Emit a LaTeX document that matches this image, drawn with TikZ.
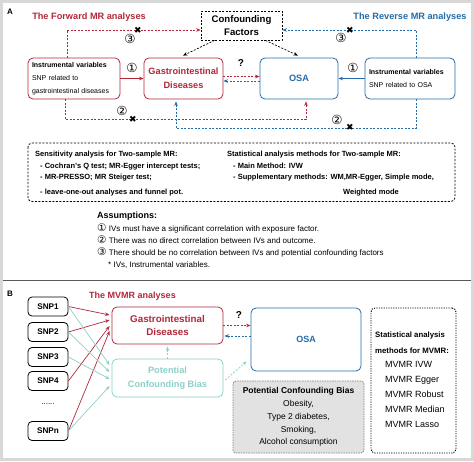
\documentclass[tikz,border=0pt]{standalone}
\usepackage{fontspec}
\setmainfont{Liberation Sans}
\newfontfamily\symfont{DejaVu Sans}
\usetikzlibrary{positioning,arrows.meta}
\definecolor{fwdred}{RGB}{178,40,58}
\definecolor{revblue}{RGB}{36,108,168}
\definecolor{confteal}{RGB}{140,208,200}
\definecolor{framegray}{RGB}{216,216,216}
\definecolor{boxgray}{RGB}{226,226,226}

\begin{document}
\begin{tikzpicture}[x=1pt,y=-1pt,>={Stealth[length=4.5pt,width=3.5pt]}]
\tikzstyle{every node}=[inner sep=0pt]
\tikzstyle{fbox}=[draw=fwdred,rounded corners=5pt,line width=0.8pt]
\tikzstyle{rbox}=[draw=revblue,rounded corners=5pt,line width=0.8pt]
\tikzstyle{snpbox}=[draw,rounded corners=4pt,line width=0.8pt,minimum width=40pt,minimum height=19pt,font=\bfseries\fontsize{8.2}{10}\selectfont]
\tikzstyle{fdash}=[fwdred,line width=0.7pt,dash pattern=on 2pt off 1.5pt,->]
\tikzstyle{rdash}=[revblue,line width=0.7pt,dash pattern=on 2pt off 1.5pt,->]
\tikzstyle{kdash}=[black,line width=0.7pt,dash pattern=on 2pt off 1.5pt,->]
\tikzstyle{tdash}=[confteal,line width=0.7pt,dash pattern=on 2pt off 1.5pt,->]
\tikzstyle{num}=[font=\symfont\fontsize{12.5}{12.5}\selectfont]
\tikzstyle{cross}=[font=\symfont\fontsize{9}{9}\selectfont]
\tikzstyle{small}=[anchor=mid west,font=\bfseries\fontsize{7.5}{9}\selectfont]
\tikzstyle{assum}=[anchor=mid west,font=\fontsize{8}{9}\selectfont]

\useasboundingbox (0,0) rectangle (474,461);
\fill[white] (0,0) rectangle (474,461);
\draw[framegray,line width=3pt] (1.5,1.5) rectangle (472.5,459.5);
\draw[gray!70!black,line width=1.5pt] (3,280.5) -- (471,280.5);

\node[font=\bfseries\fontsize{8}{8}\selectfont] (lA) at (10,12) {A};
\node[font=\bfseries\fontsize{9.2}{10}\selectfont,text=fwdred] (tfwd) at (89,17) {The Forward MR analyses};
\node[font=\bfseries\fontsize{9.2}{10}\selectfont,text=revblue] (trev) at (410,17) {The Reverse MR analyses};

\node[draw,dash pattern=on 2pt off 1.5pt,line width=0.8pt,minimum width=81pt,minimum height=29pt,align=center,font=\bfseries\fontsize{9.6}{13.5}\selectfont] (conf) at (241.5,25.5) {Confounding\\Factors};

\node[fbox,minimum width=92pt,minimum height=41pt,text width=84pt,align=left,font=\fontsize{7}{13}\selectfont] (fiv) at (74,78.5) {\textbf{Instrumental variables}\\SNP related to\\gastrointestinal diseases};
\node[fbox,minimum width=79pt,minimum height=41pt,align=center,text=fwdred,font=\bfseries\fontsize{9.2}{14}\selectfont] (gi) at (183.5,78.5) {Gastrointestinal\\Diseases};
\node[rbox,minimum width=78pt,minimum height=41pt,text=revblue,font=\bfseries\fontsize{9.2}{10}\selectfont] (osa) at (299,78.5) {OSA};
\node[rbox,minimum width=90pt,minimum height=41pt,text width=82pt,align=left,font=\fontsize{7}{13}\selectfont] (riv) at (410,78.5) {\textbf{Instrumental variables}\\SNP related to OSA};

\draw[fwdred,line width=0.8pt,->] (fiv.east) -- (gi.west);
\draw[revblue,line width=0.8pt,->] (riv.west) -- (osa.east);
\node[num] (n1f) at (132,68) {①};
\node[num] (n1r) at (353,68) {①};

\draw[fdash] ([xshift=-7pt]fiv.north) |- ([yshift=-4.5pt]conf.west);
\draw[rdash] ([xshift=6pt]riv.north) |- ([yshift=-4.5pt]conf.east);
\node[cross] (x3f) at (138,30) {✖};
\node[num] (n3f) at (130,39) {③};
\node[cross] (x3r) at (350,30) {✖};
\node[num] (n3r) at (341,38) {③};

\draw[kdash] ([xshift=-27pt]conf.south) -- ([xshift=-0.5pt,yshift=2pt]gi.north);
\draw[kdash] ([xshift=24pt]conf.south) -- ([xshift=-1pt,yshift=2pt]osa.north);

\draw[fdash] ([yshift=2pt]gi.east) -- ([yshift=2pt]osa.west);
\draw[rdash] ([yshift=-2.5pt]osa.west) -- ([yshift=-2.5pt]gi.east);
\node[font=\bfseries\fontsize{10}{10}\selectfont] (q1) at (241,63) {?};

\draw[fdash] ([xshift=-9pt]fiv.south) -- ++(0,20) -| ([xshift=7pt,yshift=-2pt]osa.south);
\draw[rdash] ([xshift=6pt]riv.south) -- ++(0,29) -| ([xshift=-7.5pt,yshift=-2pt]gi.south);
\node[cross] (x2f) at (133,119) {✖};
\node[num] (n2f) at (122,111) {②};
\node[cross] (x2r) at (350,127.5) {✖};
\node[num] (n2r) at (337,120) {②};

\draw[dash pattern=on 2pt off 1.5pt,line width=0.8pt,rounded corners=4pt] (28,143) rectangle (455,201.5);
\node[small] (s1) at (35,154) {Sensitivity analysis for Two-sample MR:};
\node[small] (s2) at (40,166) {- Cochran's Q test; MR-Egger intercept tests;};
\node[small] (s3) at (40,177) {- MR-PRESSO; MR Steiger test;};
\node[small] (s4) at (40,192) {- leave-one-out analyses and funnel pot.};
\node[small] (m1) at (227,154) {Statistical analysis methods for Two-sample MR:};
\node[small] (m2) at (233,166) {- Main Method: IVW};
\node[small] (m3) at (233,177) {- Supplementary methods: WM,MR-Egger, Simple mode,};
\node[small,anchor=mid] (m4) at (371,192) {Weighted mode};

\node[anchor=mid west,font=\bfseries\fontsize{9}{10}\selectfont] (as0) at (97,216) {Assumptions:};
\node[assum] (as1) at (97,229) {{\symfont\fontsize{10.5}{9}\selectfont ①} IVs must have a significant correlation with exposure factor.};
\node[assum] (as2) at (97,241) {{\symfont\fontsize{10.5}{9}\selectfont ②} There was no direct correlation between IVs and outcome.};
\node[assum] (as3) at (97,253) {{\symfont\fontsize{10.5}{9}\selectfont ③} There should be no correlation between IVs and potential confounding factors};
\node[assum] (as4) at (108,265) {* IVs, Instrumental variables.};

\node[font=\bfseries\fontsize{8}{8}\selectfont] (lB) at (10,294) {B};
\node[font=\bfseries\fontsize{9}{10}\selectfont,text=fwdred] (tmv) at (132.5,296) {The MVMR analyses};

\node[snpbox] (snp1) at (48,306.5) {SNP1};
\node[snpbox] (snp2) at (48,332) {SNP2};
\node[snpbox] (snp3) at (48,357) {SNP3};
\node[snpbox] (snp4) at (48,381) {SNP4};
\node[font=\fontsize{8}{8}\selectfont] (dots) at (48,404) {......};
\node[snpbox] (snpn) at (48,431) {SNPn};

\node[fbox,minimum width=111pt,minimum height=37pt,align=center,text=fwdred,font=\bfseries\fontsize{9.8}{13.5}\selectfont] (gib) at (167.5,325.5) {Gastrointestinal\\Diseases};
\node[draw=confteal,rounded corners=5pt,line width=0.8pt,minimum width=111pt,minimum height=38pt,align=center,text=confteal,font=\bfseries\fontsize{9.2}{14}\selectfont] (pcb) at (167.5,378) {Potential\\Confounding Bias};
\node[rbox,minimum width=110pt,minimum height=63pt,text=revblue,font=\bfseries\fontsize{9}{10}\selectfont] (osab) at (306,339.5) {OSA};

\draw[fwdred,line width=0.7pt,->] (snp1.east) -- ([xshift=-2pt,yshift=10.5pt]gib.west);
\draw[fwdred,line width=0.7pt,->] (snp2.east) -- ([xshift=-2pt,yshift=5.5pt]gib.west);
\draw[fwdred,line width=0.7pt,->] (snp4.east) -- ([xshift=-2pt,yshift=-0.5pt]gib.west);
\draw[fwdred,line width=0.7pt,->] (snpn.east) -- ([xshift=-2pt,yshift=-5.5pt]gib.west);
\draw[confteal,line width=0.7pt,->] (snp1.east) -- ([xshift=-2pt,yshift=13pt]pcb.west);
\draw[confteal,line width=0.7pt,->] (snp2.east) -- ([xshift=-2pt,yshift=6pt]pcb.west);
\draw[confteal,line width=0.7pt,->] (snp3.east) -- ([xshift=-2pt,yshift=-1pt]pcb.west);
\draw[confteal,line width=0.7pt,->] (snpn.east) -- ([xshift=-2pt,yshift=-8pt]pcb.west);

\draw[tdash] (pcb.north) -- ([yshift=-2pt]gib.south);
\draw[fdash] (gib.east) -- (gib.east -| osab.west);
\draw[rdash] ([yshift=-10.5pt]gib.east -| osab.west) -- ([xshift=1pt,yshift=-10.5pt]gib.east);
\draw[tdash] ([xshift=2pt,yshift=-2pt]pcb.east) -- ([xshift=-4pt,yshift=10pt]osab.south west);
\node[font=\bfseries\fontsize{10}{10}\selectfont] (q2) at (239,315) {?};

\node[draw=gray,fill=boxgray,dash pattern=on 1.5pt off 1pt,line width=0.7pt,rounded corners=3pt,minimum width=131pt,minimum height=72pt,align=center,font=\fontsize{8.5}{12.8}\selectfont] (pcg) at (298.5,417) {\textbf{Potential Confounding Bias}\\Obesity,\\Type 2 diabetes,\\Smoking,\\Alcohol consumption};

\node[draw,dash pattern=on 1.2pt off 1.2pt,line width=0.9pt,rounded corners=4pt,minimum width=85pt,minimum height=145pt] (mvs) at (413.5,380.5) {};
\node[anchor=mid west,font=\bfseries\fontsize{7.8}{9}\selectfont] (mv0) at (375,335) {Statistical analysis};
\node[anchor=mid west,font=\bfseries\fontsize{7.8}{9}\selectfont] (mv1) at (375,351) {methods for MVMR:};
\foreach \t [count=\i] in {MVMR IVW,MVMR Egger,MVMR Robust,MVMR Median,MVMR Lasso}
  \node[anchor=mid west,font=\fontsize{9}{10}\selectfont] (mvm\i) at (385,350+15*\i) {\t};
\end{tikzpicture}
\end{document}
